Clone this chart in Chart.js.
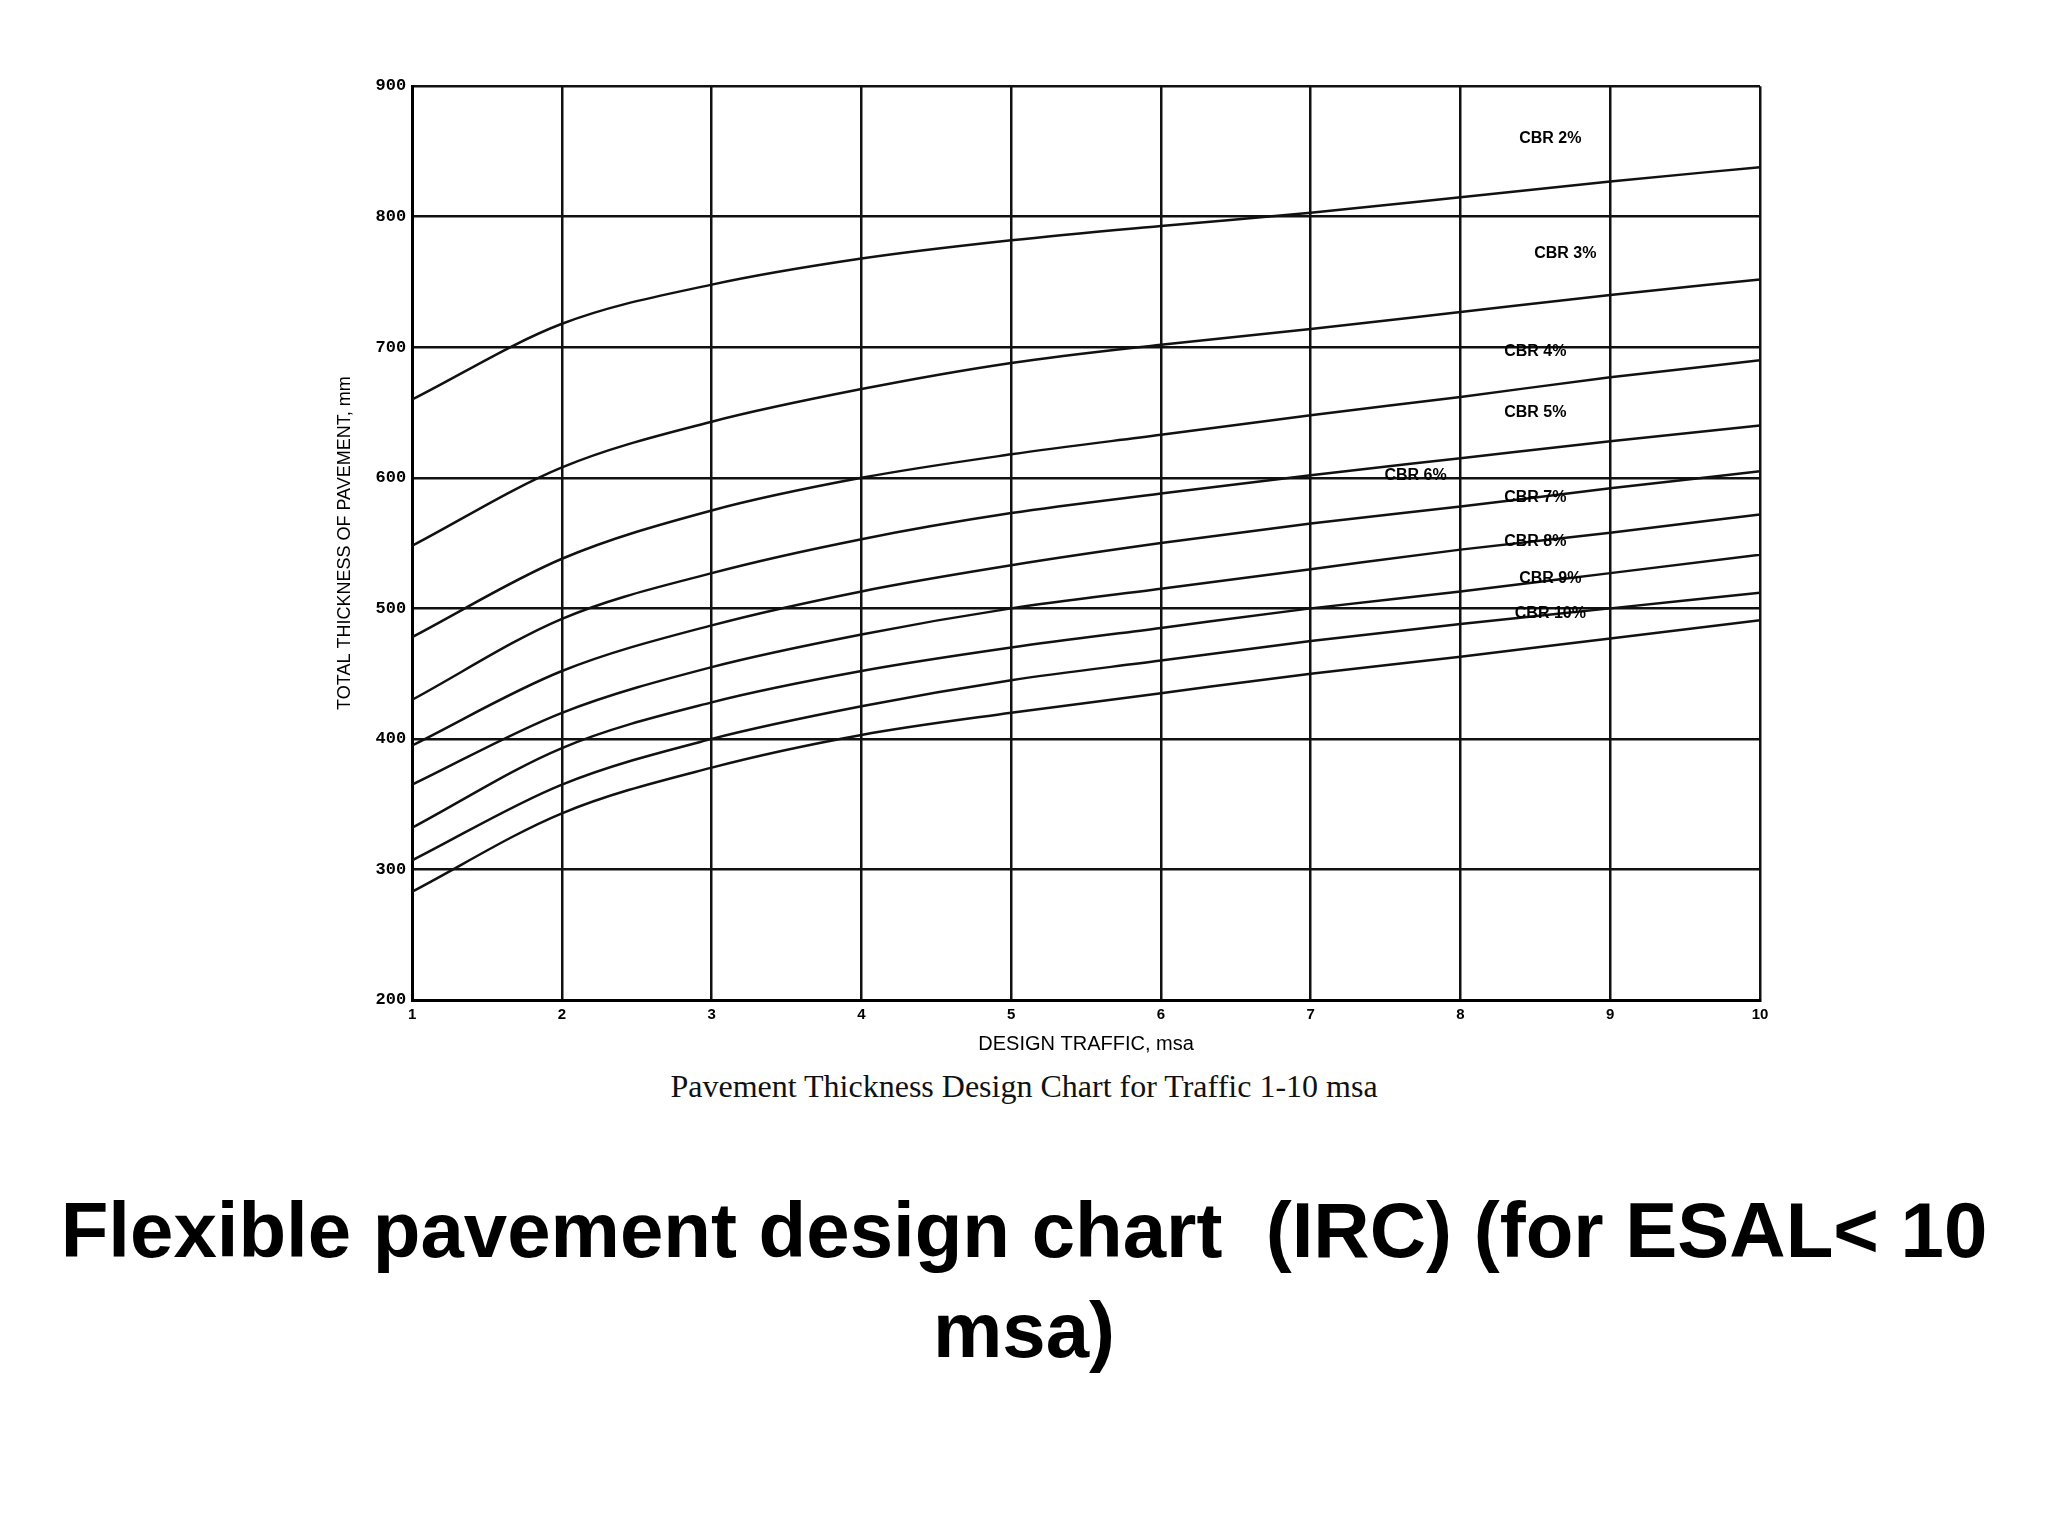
<!DOCTYPE html>
<html><head><meta charset="utf-8">
<script src="https://cdn.jsdelivr.net/npm/chart.js@4/dist/chart.umd.min.js"></script>
<style>
body{margin:0;background:#fff;width:2048px;height:1536px;position:relative;overflow:hidden}
#wrap{position:absolute;left:330px;top:70px;width:1450px;height:990px}
#sub{position:absolute;left:0;width:2048px;top:1068px;text-align:center;font-family:"Liberation Serif",serif;font-size:32px;color:#111}
#title{position:absolute;left:0;width:2048px;top:1180px;text-align:center;font-family:"Liberation Sans",Arial,sans-serif;font-weight:bold;font-size:78px;line-height:100px;color:#000}
</style></head><body>
<div id="wrap"><canvas id="c" width="1450" height="990"></canvas></div>
<div id="sub">Pavement Thickness Design Chart for Traffic 1-10 msa</div>
<div id="title">Flexible pavement design chart &nbsp;(IRC) (for ESAL&lt; 10<br>msa)</div>
<script>
const traffic=[1,2,3,4,5,6,7,8,9,10];
const seriesNames=["CBR 2%","CBR 3%","CBR 4%","CBR 5%","CBR 6%","CBR 7%","CBR 8%","CBR 9%","CBR 10%"];
const cbr2=[660,718,748,768,782,793,803,815,827,838];
const cbr3=[548,608,643,668,688,702,714,727,740,752];
const cbr4=[478,538,575,600,618,633,648,662,677,690];
const cbr5=[430,492,527,553,573,588,602,615,628,640];
const cbr6=[395,452,487,513,533,550,565,578,592,605];
const cbr7=[365,420,455,480,500,515,530,545,558,572];
const cbr8=[332,393,428,452,470,485,500,513,527,541];
const cbr9=[307,365,400,425,445,460,475,488,500,512];
const cbr10=[283,343,378,403,420,435,450,463,477,491];
const allSeries=[cbr2,cbr3,cbr4,cbr5,cbr6,cbr7,cbr8,cbr9,cbr10];
const labelPos=[[8.6,860],[8.7,772],[8.5,697],[8.5,650],[7.7,602],[8.5,585],[8.5,551],[8.6,523],[8.6,496]];
const yTicks=[200,300,400,500,600,700,800,900];
const labelPlugin={id:'lbl',afterDatasetsDraw(ch){
 const c=ch.ctx,x=ch.scales.x,y=ch.scales.y;c.save();
 c.font='bold 16px "Liberation Sans",Arial';c.fillStyle='#000';c.textAlign='center';c.textBaseline='middle';
 seriesNames.forEach((n,i)=>c.fillText(n,x.getPixelForValue(labelPos[i][0]),y.getPixelForValue(labelPos[i][1])));
 c.restore();}};
new Chart(document.getElementById('c'),{type:'line',
 data:{datasets:allSeries.map((s,i)=>({label:seriesNames[i],data:s.map((v,j)=>({x:traffic[j],y:v})),borderColor:'#111',borderWidth:2.5,pointRadius:0,tension:0.4,cubicInterpolationMode:'monotone'}))},
 options:{responsive:false,animation:false,devicePixelRatio:1,
  layout:{padding:{right:20}},
  plugins:{legend:{display:false},tooltip:{enabled:false}},
  scales:{
   x:{type:'linear',min:1,max:10,border:{color:'#000',width:3},grid:{color:'#111',lineWidth:2.5,drawTicks:false},
      ticks:{stepSize:1,padding:6,color:'#000',font:{size:15,weight:'bold',family:'"Liberation Sans",Arial'}},
      title:{display:true,text:'DESIGN TRAFFIC, msa',color:'#000',font:{size:20,family:'"Liberation Sans",Arial'},padding:{top:2}}},
   y:{min:200,max:900,border:{color:'#000',width:3},grid:{color:'#111',lineWidth:2.5,drawTicks:false},
      afterBuildTicks(s){s.ticks=yTicks.map(v=>({value:v}));},
      ticks:{padding:6,color:'#000',font:{size:17,weight:'bold',family:'"Liberation Mono",monospace'}},
      title:{display:true,text:'TOTAL THICKNESS OF PAVEMENT, mm',color:'#000',font:{size:18,family:'"Liberation Sans",Arial'},padding:{bottom:14}}}
  }},
 plugins:[labelPlugin]});
</script>
</body></html>
